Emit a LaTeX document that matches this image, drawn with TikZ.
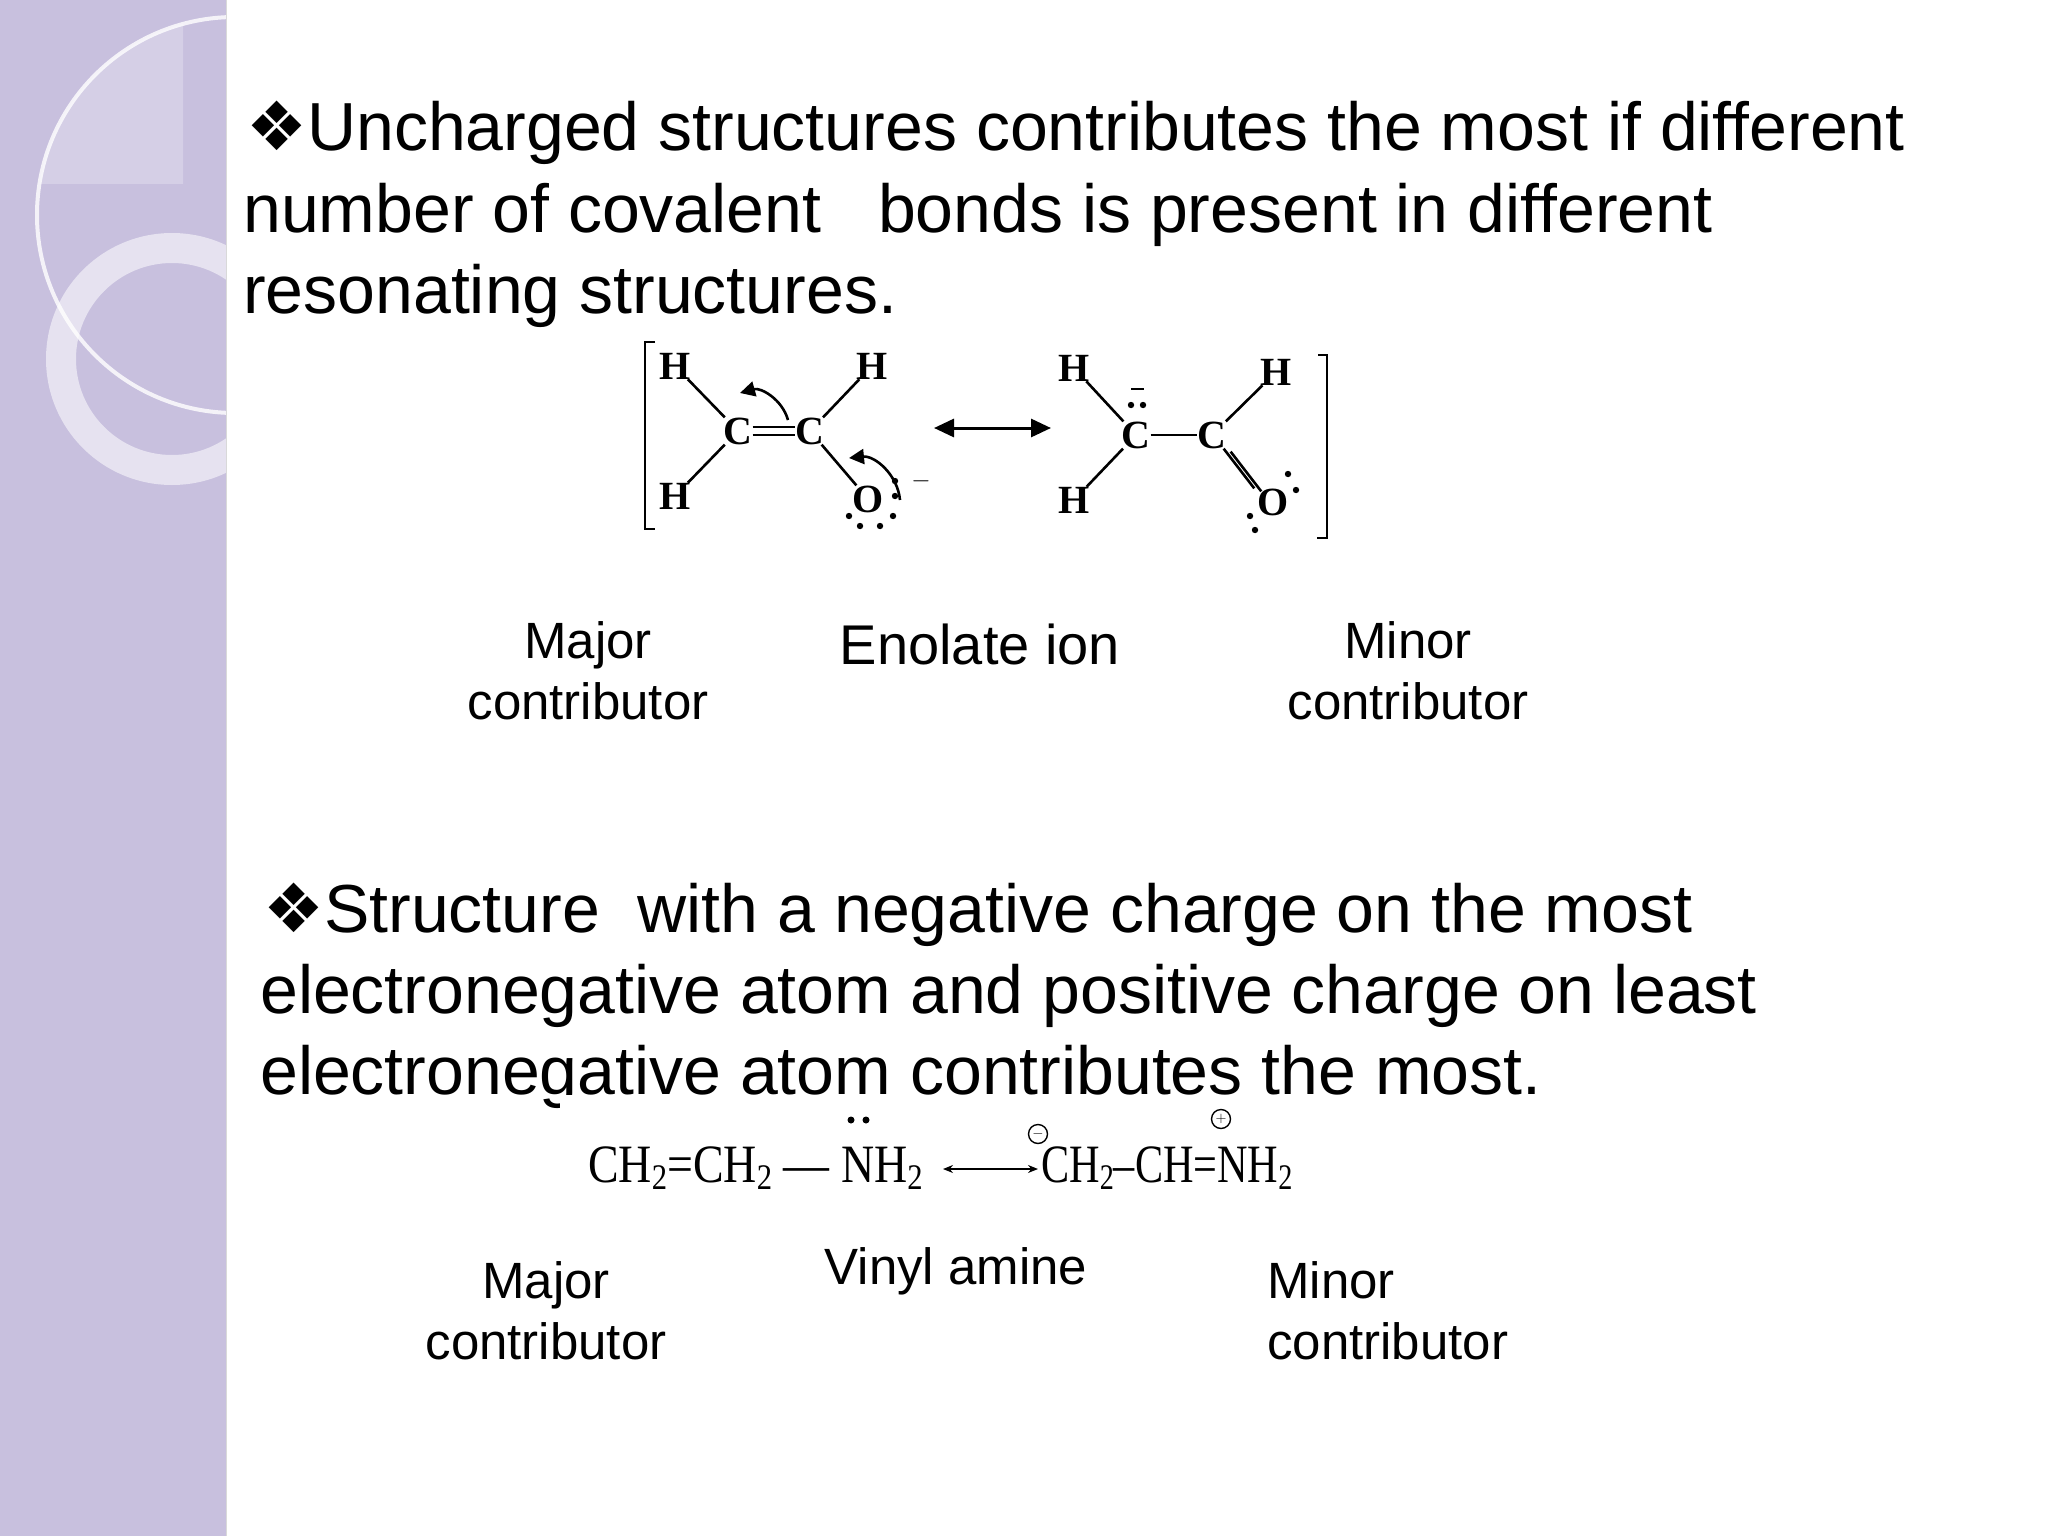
\documentclass[tikz,border=0pt]{standalone}
\usepackage{fontspec}
\setmainfont{Liberation Sans}
\newfontfamily\symf{DejaVu Sans}
\newfontfamily\chem{Liberation Serif}
\usetikzlibrary{arrows.meta}
\newcommand{\sbt}{\raisebox{-0.3ex}{\fontsize{36}{36}\selectfont 2}}
\begin{document}
\begin{tikzpicture}[x=1pt,y=-1pt,
  body/.style={anchor=base west,inner sep=0pt,font=\fontsize{68}{80}\selectfont},
  lab/.style={align=center,inner sep=0pt,font=\fontsize{51}{61}\selectfont},
  atm/.style={inner sep=0pt,font=\chem\bfseries\fontsize{40}{40}\selectfont},
  bd/.style={line width=2.6pt},
  dot/.style={fill=black},
  fm/.style={anchor=base west,inner sep=0pt,xscale=0.85,font=\chem\fontsize{54}{54}\selectfont},
  chg/.style={draw,circle,line width=1.4pt,inner sep=0pt,minimum size=19pt,font=\fontsize{14}{14}\selectfont}]
\useasboundingbox (0,0) rectangle (2048,1536);
\fill[white] (0,0) rectangle (2048,1536);
% sidebar
\begin{scope}
\clip (0,0) rectangle (226,1536);
\fill[fill={rgb,255:red,200;green,192;blue,222}] (0,0) rectangle (226,1536);
\begin{scope}
\clip (0,0) rectangle (183,183);
\fill[white,opacity=0.25] (235,215) circle (198);
\end{scope}
\draw[white,opacity=0.8,line width=4pt] (235,215) circle (198);
\fill[white,opacity=0.55,even odd rule] (172,359) circle (126) (172,359) circle (96);
\end{scope}
\draw[white!85!black,line width=1pt] (226,0) -- (226,1536);
% paragraph 1
\node[body] (p1a) at (246,150) {{\symf ❖}Uncharged structures contributes the most if different};
\node[body] (p1b) at (243,232) {number of covalent \ \ bonds is present in different};
\node[body] (p1c) at (243,313) {resonating structures.};
% enolate left
\draw[line width=2.4pt] (655,342) -- (645,342) -- (645,529) -- (655,529);
\node[atm] (h1) at (675,366) {H};
\node[atm] (h2) at (675,496) {H};
\node[atm] (c1) at (738,431) {C};
\node[atm] (c2) at (810,431) {C};
\node[atm] (h3) at (872,366) {H};
\node[atm] (o1) at (868,499) {O};
\node[atm] (m1) at (921,481) {$-$};
\draw[bd] (h1) -- (c1); \draw[bd] (h2) -- (c1);
\draw[bd] (h3) -- (c2); \draw[bd] (o1) -- (c2);
\draw[bd] ([yshift=-4]c1.east) -- ([yshift=-4]c2.west);
\draw[bd] ([yshift=4]c1.east) -- ([yshift=4]c2.west);
\coordinate (a1s) at (788,420); \coordinate (a1e) at (740,393);
\draw[line width=2.6pt,-{Triangle[length=15pt,width=15pt]}] (a1s) to[bend right=45] (a1e);
\coordinate (a2s) at (900,500); \coordinate (a2e) at (849,458);
\draw[line width=2.6pt,-{Triangle[length=15pt,width=15pt]}] (a2s) to[bend right=45] (a2e);
\foreach \p in {(895,481),(895,496),(849,516),(860,526),(880,526),(893,516)} \fill[dot] \p circle (3.2);
% resonance arrow
\coordinate (r1) at (934,428); \coordinate (r2) at (1051,428);
\draw[line width=3pt,{Triangle[length=20pt,width=18pt]}-{Triangle[length=20pt,width=18pt]}] (r1) -- (r2);
% enolate right
\node[atm] (h4) at (1074,368) {H};
\node[atm] (h5) at (1074,500) {H};
\node[atm] (c3) at (1136,435) {C};
\node[atm] (c4) at (1212,435) {C};
\node[atm] (h6) at (1276,372) {H};
\node[atm] (o2) at (1273,502) {O};
\draw[bd] (h4) -- (c3); \draw[bd] (h5) -- (c3);
\draw[bd] (c3) -- (c4); \draw[bd] (h6) -- (c4);
\draw[bd] ([xshift=-3]c4.south east) -- ([xshift=-3]o2.north west);
\draw[bd] ([xshift=4,yshift=-3]c4.south east) -- ([xshift=4,yshift=-3]o2.north west);
\draw[line width=2.2pt] (1131,389) -- (1144,389);
\fill[dot] (1131,405) circle (3.2); \fill[dot] (1143,405) circle (3.2);
\foreach \p in {(1288,474),(1296,490),(1250,516),(1255,530)} \fill[dot] \p circle (3.2);
\draw[line width=2.4pt] (1318,355) -- (1327,355) -- (1327,538) -- (1317,538);
% labels
\node[lab] (l1) at (588,671) {Major\\contributor};
\node[lab,font=\fontsize{56}{60}\selectfont] (l2) at (980,644) {Enolate ion};
\node[lab] (l3) at (1408,671) {Minor\\contributor};
% paragraph 2
\node[body] (p2a) at (263,932) {{\symf ❖}Structure \ with a negative charge on the most};
\node[body] (p2b) at (260,1013) {electronegative atom and positive charge on least};
\node[body] (p2c) at (260,1094) {electronegative atom contributes the most.};
\fill[white] (560,1095) rectangle (1310,1215);
% formula
\node[fm] (f1) at (588,1182) {CH\sbt=CH\sbt\ — NH\sbt};
\node[fm,xscale=0.92] (f2) at (1041,1182) {CH\sbt–CH=NH\sbt};
\coordinate (b1) at (943,1169); \coordinate (b2) at (1038,1169);
\draw[line width=1.4pt,{Stealth[length=10pt,width=8pt]}-{Stealth[length=10pt,width=8pt]}] (b1) -- (b2);
\fill[dot] (851,1120) circle (3.5); \fill[dot] (866,1120) circle (3.5);
\node[chg] (cm) at (1038,1134) {$-$};
\node[chg] (cp) at (1221,1119) {$+$};
% bottom labels
\node[lab] (l4) at (546,1311) {Major\\contributor};
\node[lab] (l5) at (956,1271) {Vinyl amine};
\node[lab,align=left,anchor=west] (l6) at (1267,1311) {Minor\\contributor};
\end{tikzpicture}
\end{document}
